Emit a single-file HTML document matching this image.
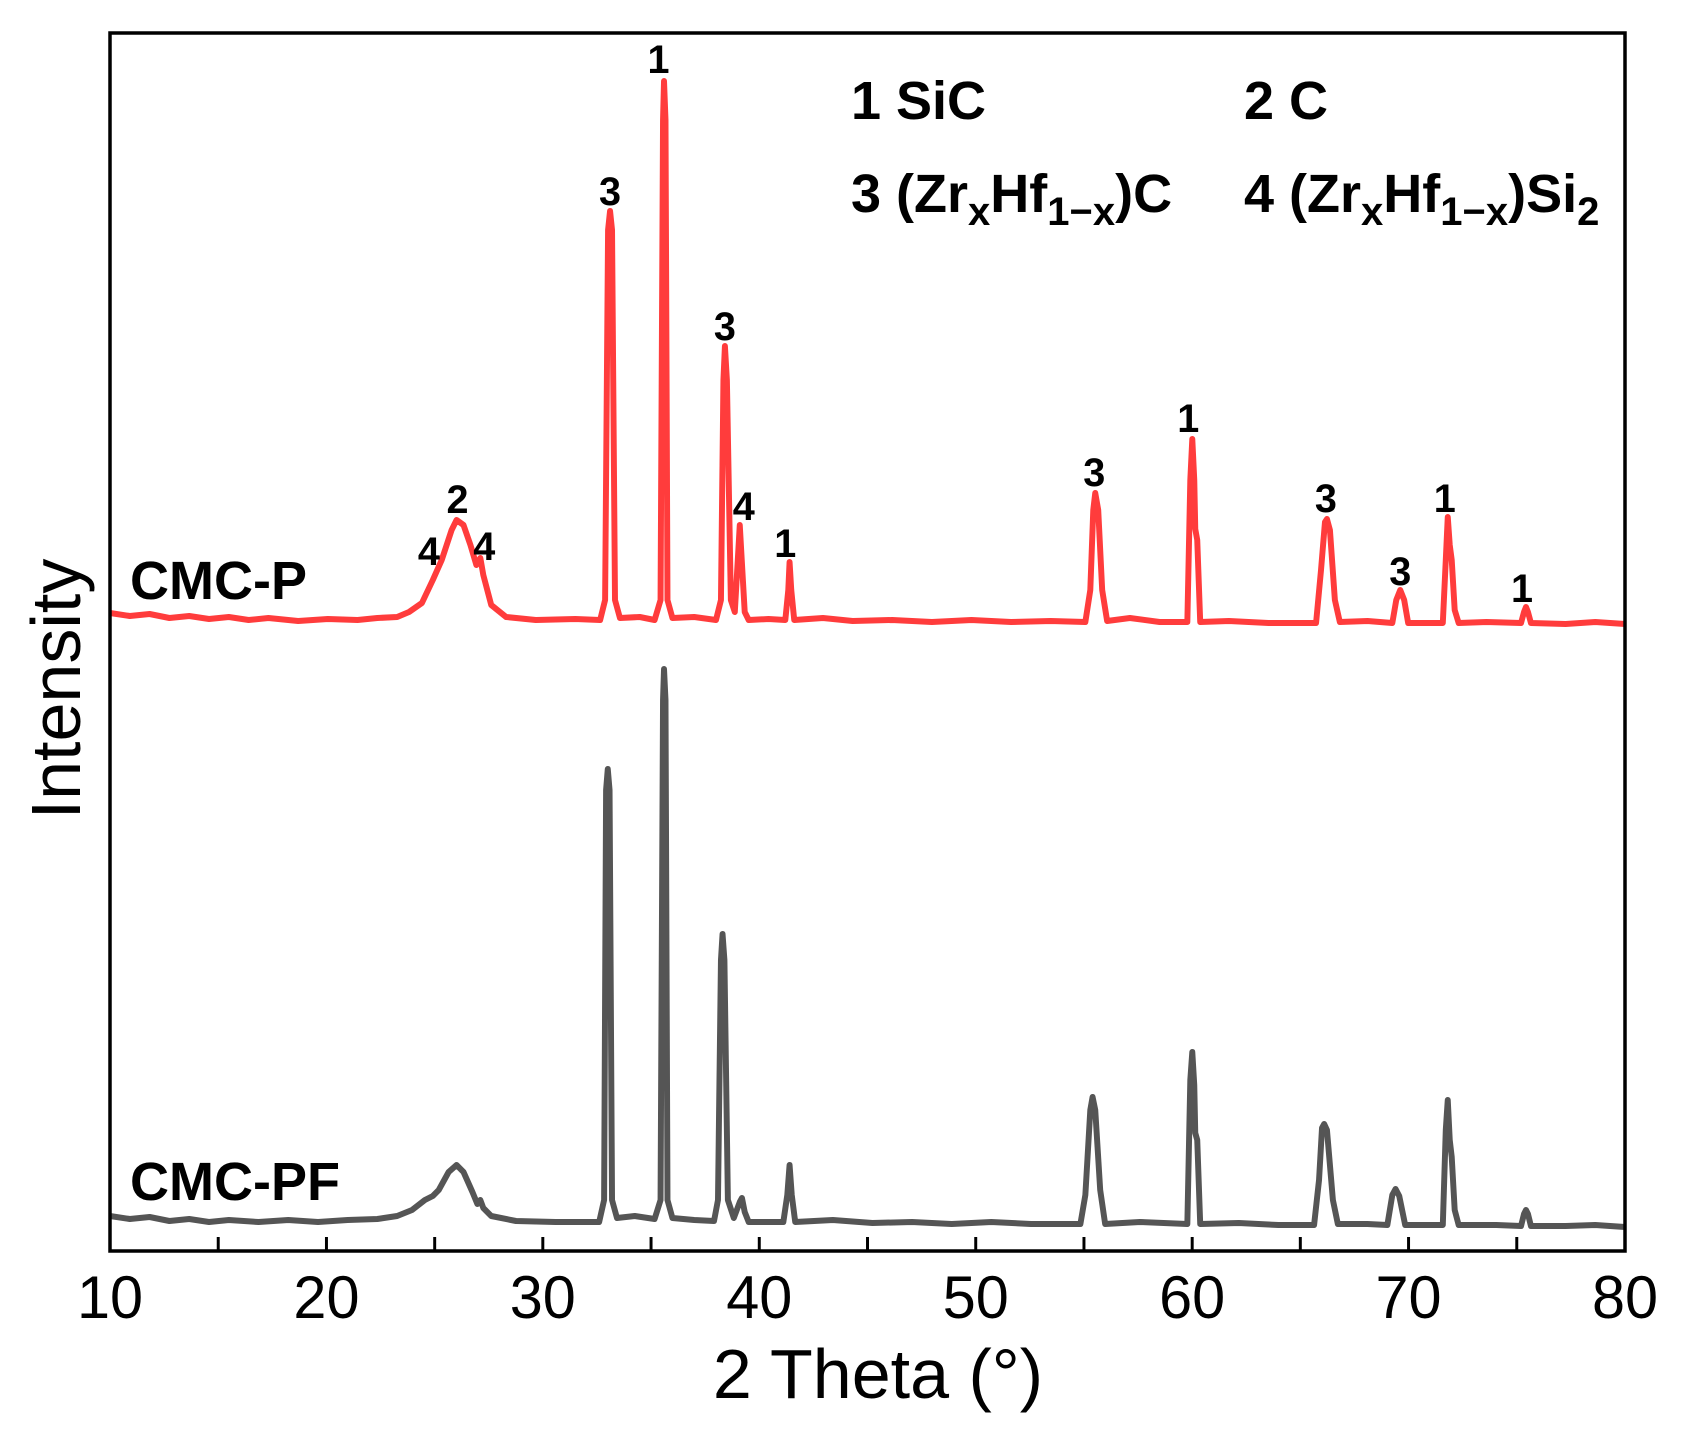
<!DOCTYPE html>
<html><head><meta charset="utf-8"><style>
html,body{margin:0;padding:0;background:#fff;}
svg{display:block;}
text{font-family:"Liberation Sans",Arial,sans-serif;}
</style></head><body>
<svg width="1684" height="1441" viewBox="0 0 1684 1441" xmlns="http://www.w3.org/2000/svg">
<g transform="translate(110,0) scale(0.9902,1) translate(-110,0)">
<path fill="none" stroke="#ff3c3c" stroke-width="6" stroke-linejoin="round" d="M110 613 L130 616 L150 614 L170 618 L190 616 L210 619 L230 617 L250 620 L270 618 L300 621 L330 619 L360 620 L380 618 L400 617 L412 612 L425 603 L436 580 L445 560 L455 530 L460 520 L467 525 L474 545 L480 565 L484 558 L487 575 L495 605 L510 617 L540 620 L580 619 L605 620 L610 600 L613 230 L615 211 L617 230 L620 600 L625 618 L645 617 L660 620 L666 600 L668.5 120 L669.5 81 L671 120 L673 600 L678 618 L700 617 L722 620 L727 600 L729.5 380 L731 346 L733 380 L737 600 L741 612 L744 560 L746 525 L748 560 L751 612 L755 620 L775 619 L792 620 L795 590 L796.3 562 L798 590 L801 620 L830 618 L860 621 L900 620 L940 622 L980 620 L1020 622 L1060 621 L1095 622 L1100 590 L1103 510 L1105 493 L1108 510 L1112 590 L1117 621 L1140 618 L1170 622 L1198 622 L1201 480 L1203 439 L1205 480 L1206 529 L1208 540 L1211 622 L1240 621 L1280 623 L1328 623 L1333 570 L1337 522 L1339 519 L1342 530 L1347 600 L1352 622 L1380 621 L1405 623 L1409 600 L1413 590 L1417 600 L1421 623 L1456 623 L1459 560 L1461 517 L1463 545 L1465 560 L1468 610 L1472 623 L1500 622 L1535 623 L1538 612 L1540 607 L1542 612 L1545 623 L1580 624 L1610 622 L1640 624"/>
<path fill="none" stroke="#555555" stroke-width="6" stroke-linejoin="round" d="M110 1216 L130 1219 L150 1217 L170 1221 L190 1219 L210 1222 L230 1220 L260 1222 L290 1220 L320 1222 L350 1220 L380 1219 L400 1216 L415 1210 L428 1200 L436 1196 L442 1190 L452 1172 L460 1165 L467 1172 L476 1192 L481 1204 L484 1200 L487 1208 L495 1216 L520 1221 L560 1222 L604 1222 L609 1200 L611 790 L612.7 769 L614.5 790 L617 1200 L622 1218 L640 1216 L660 1219 L666 1200 L668.5 700 L669.5 669 L671 700 L673 1200 L678 1218 L700 1220 L720 1221 L724 1200 L727 960 L728.6 934 L730.5 960 L734 1200 L740 1218 L746 1202 L748.2 1198 L751 1212 L755 1222 L790 1222 L794 1195 L796.3 1165 L798.5 1195 L802 1222 L840 1220 L880 1223 L920 1222 L960 1224 L1000 1222 L1040 1224 L1090 1224 L1095 1195 L1100 1110 L1102.3 1097 L1105 1110 L1110 1190 L1115 1224 L1150 1222 L1198 1224 L1201 1080 L1203 1052 L1205 1085 L1206 1133 L1208 1140 L1211 1224 L1250 1223 L1290 1225 L1326 1225 L1331 1180 L1334 1128 L1336.2 1124 L1339 1130 L1345 1200 L1350 1224 L1380 1224 L1400 1225 L1405 1195 L1408.3 1189 L1412 1196 L1418 1225 L1456 1225 L1459 1130 L1461 1100 L1463 1140 L1465 1157 L1468 1210 L1472 1225 L1510 1225 L1535 1226 L1538 1214 L1540 1210 L1542 1214 L1545 1226 L1580 1226 L1610 1225 L1640 1227"/>
<g stroke="#000" stroke-width="3">
<line x1="219.3" y1="1251" x2="219.3" y2="1237"/><line x1="328.6" y1="1251" x2="328.6" y2="1237"/><line x1="437.9" y1="1251" x2="437.9" y2="1237"/><line x1="547.1" y1="1251" x2="547.1" y2="1237"/><line x1="656.4" y1="1251" x2="656.4" y2="1237"/><line x1="765.7" y1="1251" x2="765.7" y2="1237"/><line x1="875" y1="1251" x2="875" y2="1237"/><line x1="984.3" y1="1251" x2="984.3" y2="1237"/><line x1="1093.6" y1="1251" x2="1093.6" y2="1237"/><line x1="1202.9" y1="1251" x2="1202.9" y2="1237"/><line x1="1312.1" y1="1251" x2="1312.1" y2="1237"/><line x1="1421.4" y1="1251" x2="1421.4" y2="1237"/><line x1="1530.7" y1="1251" x2="1530.7" y2="1237"/>
</g>
<g font-size="60" text-anchor="middle" fill="#000">
<text x="110" y="1318">10</text><text x="328.6" y="1318">20</text><text x="547.1" y="1318">30</text><text x="765.7" y="1318">40</text><text x="984.3" y="1318">50</text><text x="1202.9" y="1318">60</text><text x="1421.4" y="1318">70</text><text x="1640" y="1318">80</text>
</g>
<g font-weight="bold" font-size="40" text-anchor="middle" fill="#000">
<text x="432" y="565">4</text><text x="461" y="513">2</text><text x="488" y="560">4</text><text x="615" y="205">3</text><text x="664" y="73">1</text><text x="731" y="340">3</text><text x="750" y="520">4</text><text x="792" y="557">1</text><text x="1104" y="486">3</text><text x="1199" y="432">1</text><text x="1338" y="512">3</text><text x="1413" y="585">3</text><text x="1458" y="512">1</text><text x="1536" y="602">1</text>
</g>
</g>
<rect x="110" y="33" width="1515" height="1218" fill="none" stroke="#000" stroke-width="3.5"/>
<text x="878" y="1398" font-size="70" text-anchor="middle">2 Theta (°)</text>
<text transform="translate(80,689) rotate(-90)" font-size="70" text-anchor="middle">Intensity</text>
<g font-weight="bold" font-size="54" fill="#000">
<text x="130" y="599">CMC-P</text>
<text x="130" y="1200">CMC-PF</text>
<text x="851" y="119">1 SiC</text>
<text x="1244" y="119">2 C</text>
<text x="851" y="212">3 (Zr<tspan font-size="40" dy="13">x</tspan><tspan dy="-13">Hf</tspan><tspan font-size="40" dy="13">1−x</tspan><tspan dy="-13">)C</tspan></text>
<text x="1244" y="212">4 (Zr<tspan font-size="40" dy="13">x</tspan><tspan dy="-13">Hf</tspan><tspan font-size="40" dy="13">1−x</tspan><tspan dy="-13">)Si</tspan><tspan font-size="40" dy="13">2</tspan></text>
</g>
</svg>
</body></html>
